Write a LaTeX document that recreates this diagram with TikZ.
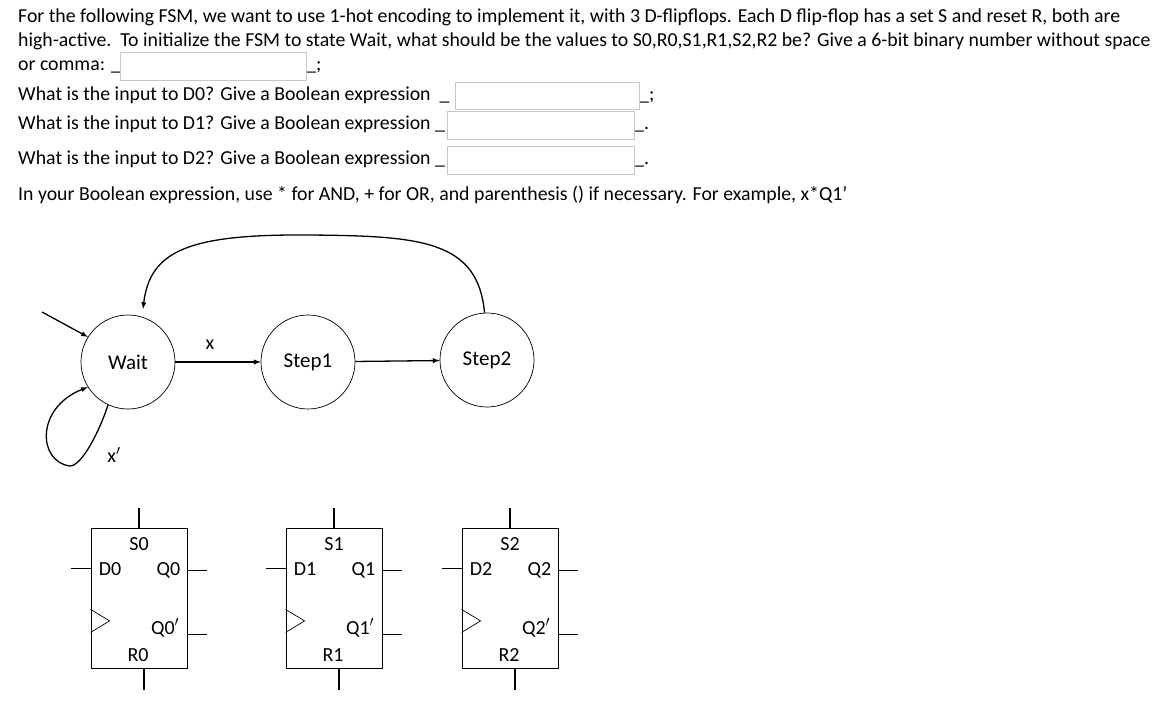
\documentclass[tikz,border=0pt]{standalone}
\usepackage{fontspec}
\setmainfont{Carlito}
\begin{document}
\begin{tikzpicture}[x=1pt,y=-1pt,
  txt/.style={anchor=base west,inner sep=0pt,font=\fontsize{19.8}{22}\selectfont},
  ans/.style={draw=black!22,line width=0.8pt},
  state/.style={circle,draw,line width=0.7pt,minimum size=94pt,inner sep=0pt,font=\fontsize{21}{22}\selectfont},
  lbl/.style={inner sep=0pt,font=\fontsize{20}{22}\selectfont},
  arr/.style={line width=1.3pt,-latex},
  ff/.style={draw,line width=0.8pt,minimum width=96pt,minimum height=140pt,inner sep=0pt},
  pin/.style={line width=1.3pt}]
\useasboundingbox (0,0) rectangle (1175,724);
% text
\node[txt] (t1) at (18,22) {For the following FSM, we want to use 1-hot encoding to implement it, with 3 D-flipflops. Each D flip-flop has a set S and reset R, both are};
\node[txt] (t2) at (18,46) {high-active.\ \ To initialize the FSM to state Wait, what should be the values to S0,R0,S1,R1,S2,R2 be? Give a 6-bit binary number without space};
\node[txt] (t3) at (18,70) {or comma: \_};
\node[txt] (t3b) at (306,70) {\_;};
\draw[ans] (120,52) rectangle (306,80);
\node[txt] (t4) at (18,100) {What is the input to D0? Give a Boolean expression \ \_};
\node[txt] (t4b) at (639,100) {\_;};
\draw[ans] (455,82) rectangle (639,109);
\node[txt] (t5) at (18,129) {What is the input to D1? Give a Boolean expression \_};
\node[txt] (t5b) at (634,129) {\_.};
\draw[ans] (447,111) rectangle (634,139);
\node[txt] (t6) at (18,164) {What is the input to D2? Give a Boolean expression \_};
\node[txt] (t6b) at (634,164) {\_.};
\draw[ans] (447,146) rectangle (634,174);
\node[txt] (t7) at (18,200) {In your Boolean expression, use * for AND, + for OR, and parenthesis () if necessary. For example, x*Q1'};
% FSM
\node[state] (wait) at (128,362) {Wait};
\node[state] (s1) at (308,362) {Step1};
\node[state] (s2) at (487,360) {Step2};
\draw[arr] (wait) -- node[lbl,above=12pt,xshift=-8pt] {x} (s1);
\draw[arr] (s1) -- (s2);
\draw[arr] (s2.93) .. controls (478,240) and (420,236) .. (310,235)
  .. controls (190,234) and (150,250) .. (143,309);
\coordinate (init) at (42,312);
\draw[arr] (init) -- (wait.148);
\draw[arr] (wait.245) .. controls (100,430) and (82,466) .. (70,466)
  .. controls (38,462) and (35,408) .. (wait.212);
\node[lbl] (xp) at (114,455) {x$'$};
% flip-flops
\foreach \n/\cx/\i in {f0/139/0,f1/334/1,f2/510/2}{
  \node[ff] (\n) at (\cx,598) {};
  \draw[pin] (\n.north) -- ++(0,-20);
  \draw[pin] ([xshift=5pt]\n.south) -- ++(0,22);
  \draw[pin] ([yshift=-41pt]\n.north west) -- ++(-20,0);
  \draw[pin] ([yshift=-43pt]\n.north east) -- ++(20,0);
  \draw[pin] ([yshift=-107pt]\n.north east) -- ++(20,0);
  \draw[line width=0.7pt] ([yshift=36pt]\n.south west) -- ++(19,-11.5) -- ++(-19,-11.5);
  \node[lbl] at ([yshift=-16pt]\n.north) {S\i};
  \node[lbl] at ([xshift=-1pt,yshift=13pt]\n.south) {R\i};
  \node[lbl,anchor=west] at ([xshift=8pt,yshift=-41pt]\n.north west) {D\i};
  \node[lbl,anchor=east] at ([xshift=-7pt,yshift=-43pt]\n.north east) {Q\i};
  \node[lbl,anchor=east] at ([xshift=-8pt,yshift=-100pt]\n.north east) {Q\i$'$};
}
\end{tikzpicture}
\end{document}
